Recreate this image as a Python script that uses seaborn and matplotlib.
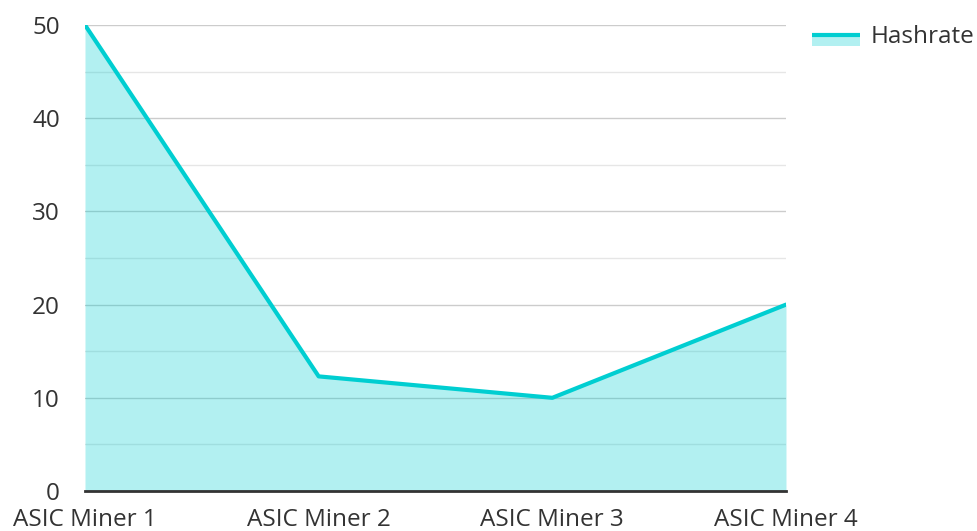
import matplotlib
matplotlib.use("Agg")
import matplotlib.pyplot as plt
import seaborn as sns
import pandas as pd
from matplotlib.lines import Line2D
from matplotlib.patches import Rectangle

sns.set_theme(style="white")
plt.rcParams['font.family'] = ['Open Sans', 'DejaVu Sans']

miners = ['ASIC Miner 1', 'ASIC Miner 2', 'ASIC Miner 3', 'ASIC Miner 4']
hashrate = [50, 12.3, 10, 20]

df = pd.DataFrame({'miner': miners, 'hashrate': hashrate})
df['pos'] = range(len(df))

line_color = '#00CED1'


class AreaHandler:
    # line on top, shaded strip under it
    def legend_artist(self, legend, orig_handle, fontsize, handlebox):
        x0, y0 = -handlebox.xdescent, -handlebox.ydescent
        w, h = handlebox.width, handlebox.height
        mid = y0 + h * 0.5
        rect = Rectangle((x0, mid - 8), w, 8, facecolor=line_color, alpha=0.3,
                         edgecolor='none', transform=handlebox.get_transform())
        line = Line2D([x0, x0 + w], [mid, mid], color=line_color, linewidth=3,
                      solid_capstyle='butt', transform=handlebox.get_transform())
        handlebox.add_artist(rect)
        handlebox.add_artist(line)
        return line


fig = plt.figure(figsize=(9.77, 5.31), dpi=100)
ax = fig.add_axes([0.087, 0.0753, 0.7175, 0.8776])

# fill is translucent so the grid shows through it
ax.fill_between(df['pos'], 0, df['hashrate'], color=line_color, alpha=0.3, linewidth=0, zorder=3)
sns.lineplot(data=df, x='pos', y='hashrate', color=line_color, linewidth=3, ax=ax, zorder=4)

ax.set_xlim(0, 3)
ax.set_ylim(0, 50)
ax.set_yticks([0, 10, 20, 30, 40, 50])
ax.set_yticks([5, 15, 25, 35, 45], minor=True)
ax.set_xticks(df['pos'])
ax.set_xticklabels(miners)
ax.grid(axis='y', which='major', color='#cccccc', linewidth=1, zorder=1)
ax.grid(axis='y', which='minor', color='#e6e6e6', linewidth=1, zorder=1)
ax.set_axisbelow(True)
for s in ['top', 'right', 'left']:
    ax.spines[s].set_visible(False)
ax.spines['bottom'].set_color('#333333')
ax.spines['bottom'].set_linewidth(2)
ax.spines['bottom'].set_zorder(5)
ax.tick_params(axis='y', which='both', length=0, pad=18, labelsize=17.5, labelcolor='#333333')
ax.tick_params(axis='x', length=0, pad=12, labelsize=17.5, labelcolor='#333333')
ax.set_xlabel('')
ax.set_ylabel('')

proxy = Line2D([], [], color=line_color)
leg = fig.legend([proxy], ['Hashrate'], loc='center left', bbox_to_anchor=(0.831, 0.930),
                 frameon=False, fontsize=17.5, handlelength=2.0, handletextpad=0.4,
                 labelcolor='#333333', borderaxespad=0, borderpad=0,
                 handler_map={Line2D: AreaHandler()})

fig.savefig('out.png', dpi=100)
